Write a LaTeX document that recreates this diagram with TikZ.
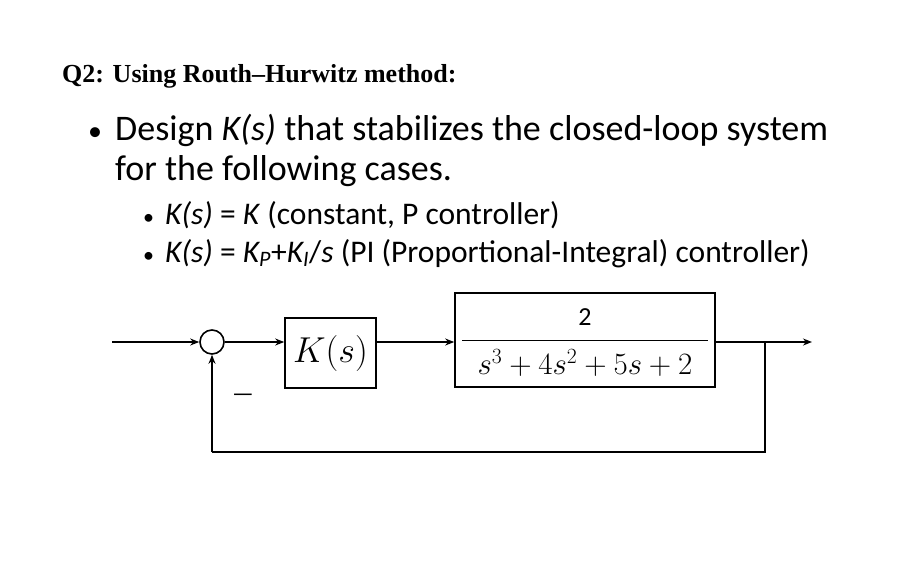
\RequirePackage{fix-cm}
\documentclass[tikz,border=0pt]{standalone}
\usepackage{fontspec}
\setmainfont{Carlito}
\newfontfamily\titlefont{Liberation Serif}
\usetikzlibrary{arrows.meta}
\tikzset{txt/.style={anchor=base west,inner sep=0pt},
 blk/.style={draw,line width=1.6pt,minimum width=#1,inner sep=0pt},
 conn/.style={line width=1.6pt,-{Stealth[length=9pt,width=7pt]}},
 wire/.style={line width=1.6pt}}
\begin{document}
\begin{tikzpicture}[x=1pt,y=-1pt]
\useasboundingbox (0,0) rectangle (908,576);
\node[txt] (title) at (62,82) {\titlefont\bfseries\fontsize{26}{30}\selectfont Q2: Using Routh–Hurwitz method:};
\node[txt] (b1) at (88,140) {\fontsize{28}{32}\selectfont •};
\node[txt] (l1) at (115,140) {\fontsize{36}{40}\selectfont Design \textit{K(s)} that stabilizes the closed-loop system};
\node[txt] (l2) at (115,180) {\fontsize{36}{40}\selectfont for the following cases.};
\node[txt] (b2) at (143,224) {\fontsize{22}{26}\selectfont •};
\node[txt] (l3) at (165,224) {\fontsize{31.5}{34}\selectfont \textit{K(s)} = \textit{K} (constant, P controller)};
\node[txt] (b3) at (143,262) {\fontsize{22}{26}\selectfont •};
\node[txt] (l4) at (165,262) {\fontsize{31.5}{34}\selectfont \textit{K(s)} = \textit{K\textsubscript{P}}+\textit{K\textsubscript{I}}/\textit{s} (PI (Proportional-Integral) controller)};
\coordinate (in) at (112,342);
\node[draw,circle,line width=1.6pt,minimum size=24pt,inner sep=0pt] (sum) at (212,342) {};
\node[blk=91pt,minimum height=70pt] (K) at (330.5,353) {\fontsize{36}{40}\selectfont $K(s)$};
\node[blk=260pt,minimum height=94pt] (G) at (585,340) {};
\node (num) at (585,317) {\fontsize{26}{30}\selectfont 2};
\node (den) at (585,363) {\fontsize{31}{34}\selectfont $s^3+4s^2+5s+2$};
\draw[line width=1pt] (462,340) -- (708,340);
\coordinate (out) at (812,342);
\coordinate (tap) at (765,342);
\coordinate (c1) at (765,452);
\coordinate (c2) at (212,452);
\draw[conn] (in) -- (sum.west);
\draw[conn] (sum.east) -- (sum.east -| K.west);
\draw[conn] (K.east |- sum) -- (G.west |- sum);
\draw[conn] (G.east |- sum) -- (out);
\draw[wire] (tap) -- (c1) -- (c2);
\draw[conn] (c2) -- (sum.south);
\node (minus) at (243,398) {\fontsize{24}{28}\selectfont —};
\end{tikzpicture}
\end{document}
